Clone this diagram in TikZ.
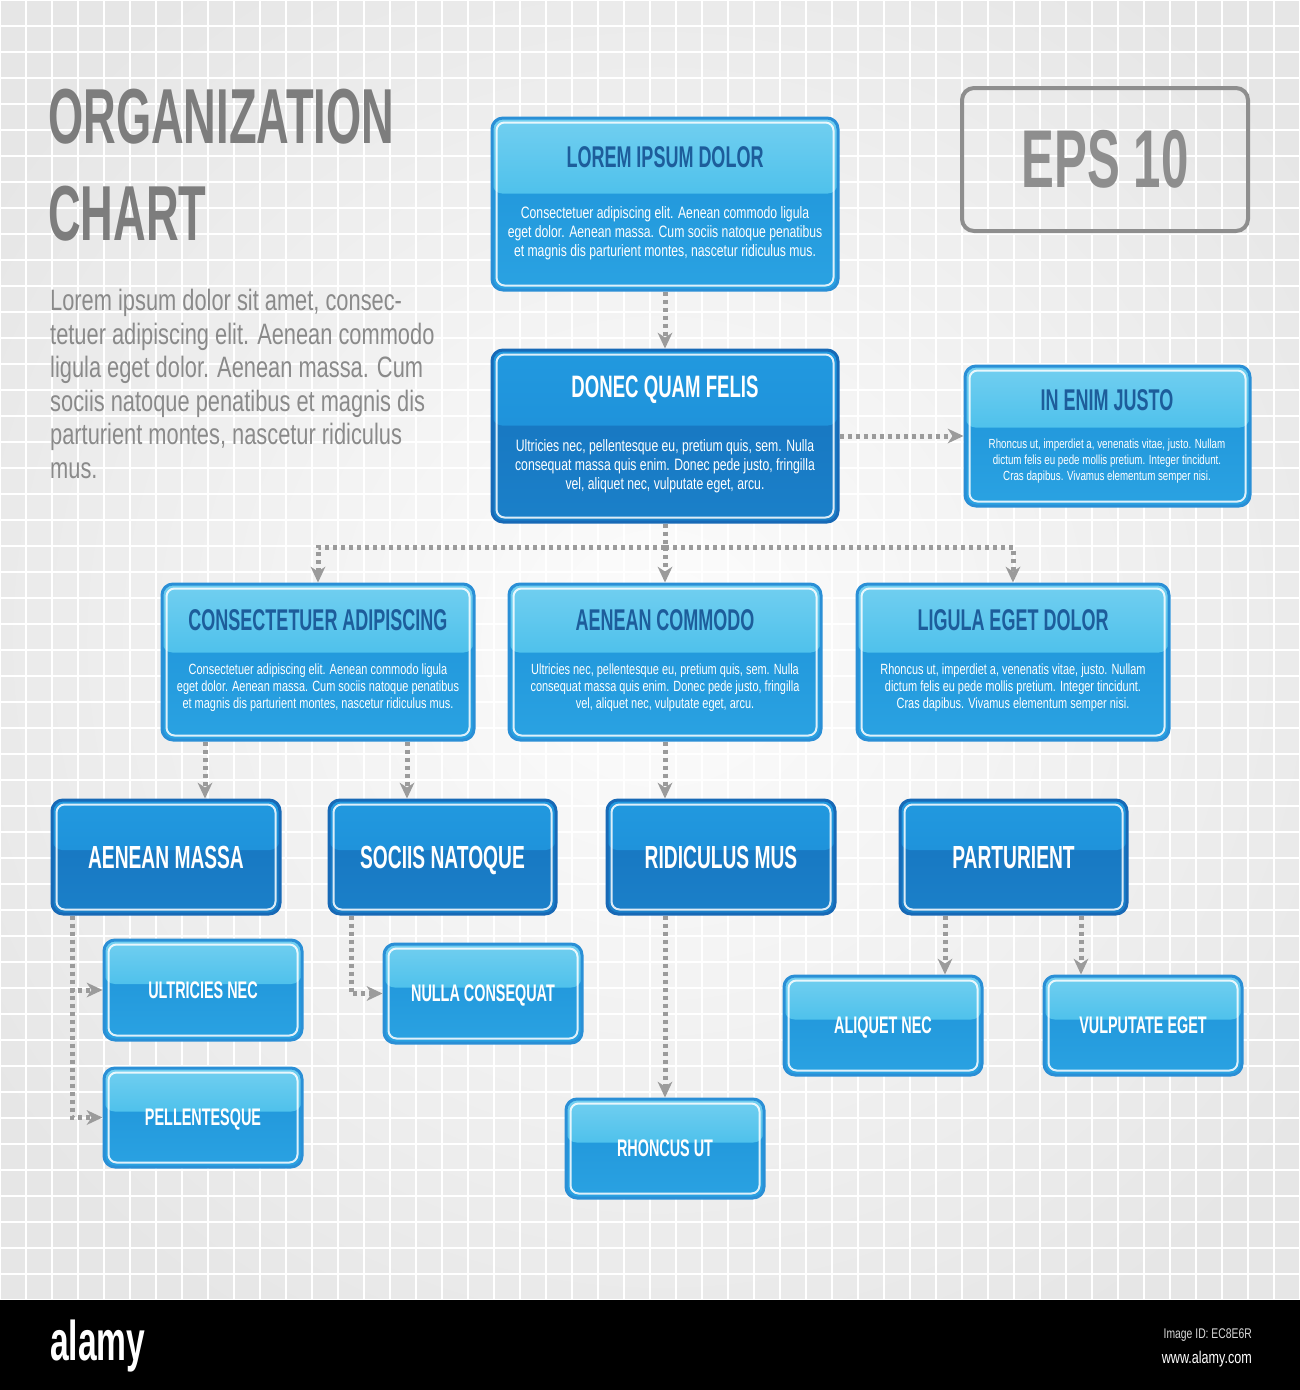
\documentclass[tikz,border=0pt]{standalone}
\usepackage{fontspec}
\setmainfont{Liberation Sans}
\newfontfamily\hdfont{Liberation Sans}[FakeStretch=0.6]
\newfontfamily\ttfont{Liberation Sans}[FakeStretch=0.58]
\newfontfamily\bdfont{Liberation Sans}[FakeStretch=0.74]
\usetikzlibrary{arrows.meta,calc,fadings}
\definecolor{lbT1}{HTML}{72CFF0}
\definecolor{lbT2}{HTML}{22B0E6}
\definecolor{lbB1}{HTML}{1E93D8}
\definecolor{lbB2}{HTML}{2AA2E2}
\definecolor{lbBorder}{HTML}{2A8FD6}
\definecolor{dbT1}{HTML}{2299DF}
\definecolor{dbT2}{HTML}{1A8BD6}
\definecolor{dbB1}{HTML}{1573BE}
\definecolor{dbB2}{HTML}{1B80C9}
\definecolor{dbBorder}{HTML}{1769B6}
\definecolor{titleblue}{HTML}{1D5D9B}
\definecolor{dotgray}{HTML}{9B9B9B}
\definecolor{bggray}{HTML}{E6E6E6}
\definecolor{txtgray}{HTML}{8A8A8A}
\definecolor{titlegray}{HTML}{7D7D7D}
\definecolor{epsgray}{HTML}{8E8E8E}
\tikzfading[name=glow, inner color=transparent!0, outer color=transparent!100]
\newcommand\fsz[2]{\fontsize{#1}{#2}\selectfont}
\newcommand\obox[7]{%
  \node[#6, minimum width=#4pt, minimum height=#5pt] (#1) at (#2,#3) {#7};
  \draw[innerline] ([shift={(6,6)}]#1.north west) rectangle ([shift={(-6,-6)}]#1.south east);
}
\tikzset{
  splitpic/.style 2 args={path picture={\shade[top color=#1, bottom color=#2]
     (path picture bounding box.north west) rectangle
     ($(path picture bounding box.north east)!0.44!(path picture bounding box.south east)$);}},
  lightbox/.style={draw=lbBorder, line width=3pt, rounded corners=11pt, inner sep=0pt,
     top color=lbB1, bottom color=lbB2, splitpic={lbT1}{lbT2}},
  darkbox/.style={draw=dbBorder, line width=3pt, rounded corners=11pt, inner sep=0pt,
     top color=dbB1, bottom color=dbB2, splitpic={dbT1}{dbT2}},
  innerline/.style={draw=white, line width=2pt, draw opacity=0.85, rounded corners=8pt},
  ttl/.style={font=\hdfont\bfseries\fsz{30}{30}, inner sep=0pt},
  midttl/.style={font=\hdfont\bfseries\fsz{32}{32}, text=white, text depth=0pt},
  smallttl/.style={font=\hdfont\bfseries\fsz{24}{24}, text=white, text depth=0pt},
  bodytxt/.style={font=\bdfont\fsz{16.5}{19}, align=center, text=white, inner sep=0pt},
  bodymid/.style={font=\bdfont\fsz{14.8}{17}, align=center, text=white, inner sep=0pt},
  bodysmall/.style={font=\bdfont\fsz{13.2}{16}, align=center, text=white, inner sep=0pt},
  dotline/.style={draw=dotgray, line width=5pt, dash pattern=on 4pt off 4pt},
  conn/.style={dotline, -{Stealth[length=16pt, width=15pt, inset=5pt, line width=0pt]}},
  gridline/.style={draw=white, line width=2.5pt},
  epsbox/.style={draw=epsgray, line width=4pt, rounded corners=12pt, text=epsgray,
     font=\hdfont\bfseries\fsz{82}{82}, inner sep=0pt}
}
\begin{document}
\begin{tikzpicture}[x=1pt,y=-1pt]
\useasboundingbox (0,0) rectangle (1300,1390);
% background
\fill[bggray] (0,0) rectangle (1300,1300);
\foreach \i in {0,26,...,1300} \draw[gridline] (\i,0) -- (\i,1300);
\foreach \j in {0,26,...,1300} \draw[gridline] (0,\j) -- (1300,\j);
\begin{scope}
\clip (0,0) rectangle (1300,1300);
\fill[white, path fading=glow, fill opacity=0.92] (660,640) circle (820);
\end{scope}

% left texts
\node[anchor=base west, inner sep=0pt, text=titlegray, font=\ttfont\bfseries\fsz{78}{78}] (title1) at (48,143) {ORGANIZATION};
\node[anchor=base west, inner sep=0pt, text=titlegray, font=\ttfont\bfseries\fsz{78}{78}] (title2) at (48,240) {CHART};
\node[anchor=north west, align=left, inner sep=0pt, text=txtgray, font=\bdfont\fsz{29.5}{33.6}] (para) at (50,289)
  {Lorem ipsum dolor sit amet, consec-\\tetuer adipiscing elit. Aenean commodo\\ligula eget dolor. Aenean massa. Cum\\sociis natoque penatibus et magnis dis\\parturient montes, nascetur ridiculus\\mus.};
\node[epsbox, minimum width=286pt, minimum height=143pt] (eps) at (1105,159.5) {EPS 10};

% boxes
\obox{lorem}{665}{204}{346}{172}{lightbox}{}
\node[ttl, text=titleblue] (lorem-t) at (665,157) {LOREM IPSUM DOLOR};
\node[bodytxt] (lorem-b) at (665,233) {Consectetuer adipiscing elit. Aenean commodo ligula\\eget dolor. Aenean massa. Cum sociis natoque penatibus\\et magnis dis parturient montes, nascetur ridiculus mus.};

\obox{donec}{665}{436}{346}{172}{darkbox}{}
\node[ttl, text=white, font=\hdfont\bfseries\fsz{31}{31}] (donec-t) at (665,390) {DONEC QUAM FELIS};
\node[bodytxt] (donec-b) at (665,466) {Ultricies nec, pellentesque eu, pretium quis, sem. Nulla\\consequat massa quis enim. Donec pede justo, fringilla\\vel, aliquet nec, vulputate eget, arcu.};

\obox{injusto}{1107.5}{436}{285}{140}{lightbox}{}
\node[ttl, text=titleblue] (injusto-t) at (1107,400) {IN ENIM JUSTO};
\node[bodysmall] (injusto-b) at (1107,461) {Rhoncus ut, imperdiet a, venenatis vitae, justo. Nullam\\dictum felis eu pede mollis pretium. Integer tincidunt.\\Cras dapibus. Vivamus elementum semper nisi.};

\obox{cons}{318}{662}{312}{156}{lightbox}{}
\node[ttl, text=titleblue] (cons-t) at (318,620) {CONSECTETUER ADIPISCING};
\node[bodymid] (cons-b) at (318,688) {Consectetuer adipiscing elit. Aenean commodo ligula\\eget dolor. Aenean massa. Cum sociis natoque penatibus\\et magnis dis parturient montes, nascetur ridiculus mus.};

\obox{comm}{665}{662}{312}{156}{lightbox}{}
\node[ttl, text=titleblue] (comm-t) at (665,620) {AENEAN COMMODO};
\node[bodymid] (comm-b) at (665,688) {Ultricies nec, pellentesque eu, pretium quis, sem. Nulla\\consequat massa quis enim. Donec pede justo, fringilla\\vel, aliquet nec, vulputate eget, arcu.};

\obox{lig}{1013}{662}{312}{156}{lightbox}{}
\node[ttl, text=titleblue] (lig-t) at (1013,620) {LIGULA EGET DOLOR};
\node[bodymid] (lig-b) at (1013,688) {Rhoncus ut, imperdiet a, venenatis vitae, justo. Nullam\\dictum felis eu pede mollis pretium. Integer tincidunt.\\Cras dapibus. Vivamus elementum semper nisi.};

\obox{massa}{166}{857}{228}{114}{darkbox,midttl}{AENEAN MASSA}
\obox{soc}{442.5}{857}{227}{114}{darkbox,midttl}{SOCIIS NATOQUE}
\obox{rid}{721}{857}{228}{114}{darkbox,midttl}{RIDICULUS MUS}
\obox{par}{1013.5}{857}{227}{114}{darkbox,midttl}{PARTURIENT}

\obox{ult}{203}{990}{198}{100}{lightbox,smallttl}{ULTRICIES NEC}
\obox{pel}{203}{1117.5}{198}{99}{lightbox,smallttl}{PELLENTESQUE}
\obox{nul}{483}{993.5}{198}{99}{lightbox,smallttl}{NULLA CONSEQUAT}
\obox{rh}{665}{1148.5}{198}{99}{lightbox,smallttl}{RHONCUS UT}
\obox{ali}{883}{1025.5}{198}{99}{lightbox,smallttl}{ALIQUET NEC}
\obox{vul}{1143}{1025.5}{198}{99}{lightbox,smallttl}{VULPUTATE EGET}

% connectors
\coordinate (bus) at (665,547);
\coordinate (xa) at (205,0);
\coordinate (xb) at (407,0);
\coordinate (xm) at (72,0);
\coordinate (xs) at (351,0);
\coordinate (xp1) at (945,0);
\coordinate (xp2) at (1081,0);
\draw[conn] (lorem) -- (donec);
\draw[conn] (donec) -- (injusto);
\draw[dotline] (donec.south) -- (bus);
\draw[conn] (bus) -| (cons.north);
\draw[conn] (bus) -- (comm.north);
\draw[conn] (bus) -| (lig.north);
\draw[conn] (cons.south -| xa) -- (massa.north -| xa);
\draw[conn] (cons.south -| xb) -- (soc.north -| xb);
\draw[conn] (comm.south) -- (rid.north -| comm.south);
\draw[conn] (massa.south -| xm) |- (ult.west);
\draw[conn] (massa.south -| xm) |- (pel.west);
\draw[conn] (soc.south -| xs) |- (nul.west);
\draw[conn] (rid.south -| rh.north) -- (rh.north);
\draw[conn] (par.south -| xp1) -- (ali.north -| xp1);
\draw[conn] (par.south -| xp2) -- (vul.north -| xp2);

% bottom banner
\fill[black] (0,1300) rectangle (1300,1390);
\node[anchor=base west, inner sep=0pt, text=white, font=\hdfont\bfseries\fsz{56}{56}] (alamy) at (50,1360) {alamy};
\node[anchor=base east, inner sep=0pt, text=white!85!black, font=\bdfont\fsz{14}{14}] (imgid) at (1252,1338) {Image ID: EC8E6R};
\node[anchor=base east, inner sep=0pt, text=white, font=\bdfont\fsz{17}{17}] (www) at (1252,1363) {www.alamy.com};
\end{tikzpicture}
\end{document}
